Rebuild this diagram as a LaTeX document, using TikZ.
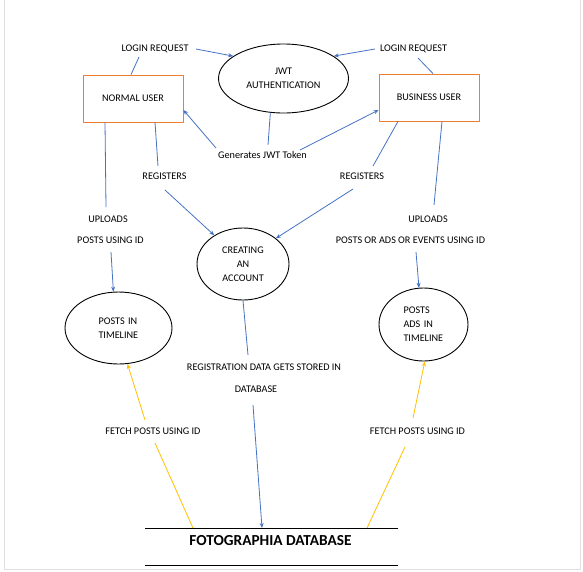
\documentclass[tikz,border=0pt]{standalone}
\usepackage{fontspec}
\setmainfont{Carlito}
\usetikzlibrary{shapes.geometric,arrows.meta}
\definecolor{lineblue}{RGB}{68,114,196}
\definecolor{boxorange}{RGB}{237,125,49}
\definecolor{fetchyellow}{RGB}{255,192,0}
\tikzset{
  lbl/.style={inner sep=0pt,font=\fontsize{10.2}{14}\selectfont},
  proc/.style={ellipse,draw=black,line width=0.9pt,inner sep=0pt,align=center,font=\fontsize{10.2}{14}\selectfont},
  userbox/.style={rectangle,draw=boxorange,line width=0.8pt,minimum width=100pt,minimum height=47pt,font=\fontsize{10.2}{14}\selectfont},
  flow/.style={lineblue,line width=0.8pt},
  fetch/.style={fetchyellow,line width=0.8pt}
}
\begin{document}
\begin{tikzpicture}[x=1pt,y=-1pt,>={Stealth[length=5pt,width=4pt]},line join=round]
\useasboundingbox (0,0) rectangle (583,571);
% frame of the page
\draw[gray!25,line width=0.8pt] (4,0) -- (4,569) -- (580,569) -- (580,0);
% processes and users
\node[proc,minimum width=130pt,minimum height=69pt] (jwt) at (283.5,78.5) {JWT\\AUTHENTICATION};
\node[proc,minimum width=92pt,minimum height=72pt] (acct) at (243,264) {CREATING\\AN\\ACCOUNT};
\node[proc,minimum width=107pt,minimum height=72pt,text width=40pt,align=left] (tlN) at (118.5,328) {POSTS IN\\TIMELINE};
\node[proc,minimum width=89pt,minimum height=73pt,text width=40pt,align=left] (tlB) at (423.5,324.5) {POSTS\\ADS IN\\TIMELINE};
\node[userbox] (nu) at (133,98.5) {NORMAL USER};
\node[userbox] (bu) at (429,97.5) {BUSINESS USER};
% labels
\node[lbl] (loginN) at (155,49) {LOGIN REQUEST};
\node[lbl] (loginB) at (413.5,49) {LOGIN REQUEST};
\node[lbl] (token) at (262.5,155) {Generates JWT Token};
\node[lbl] (regN) at (164.5,176) {REGISTERS};
\node[lbl] (regB) at (362,176) {REGISTERS};
\node[lbl] (upN) at (108,219) {UPLOADS};
\node[lbl] (postsN) at (110.5,240) {POSTS USING ID};
\node[lbl] (upB) at (428,219) {UPLOADS};
\node[lbl] (postsB) at (410.5,240) {POSTS OR ADS OR EVENTS USING ID};
\node[lbl] (store) at (264,367) {REGISTRATION DATA GETS STORED IN};
\node[lbl] (storeDb) at (256,389) {DATABASE};
\node[lbl] (fetchN) at (153,431) {FETCH POSTS USING ID};
\node[lbl] (fetchB) at (417.5,431) {FETCH POSTS USING ID};
\node[inner sep=0pt,font=\fontsize{15.3}{17}\selectfont\bfseries] (db) at (270.5,541) {FOTOGRAPHIA DATABASE};
% free ends beside the labels
\path
(139,57) coordinate (loginNs) (196,49) coordinate (loginNe)
(418,58) coordinate (loginBs) (375,49) coordinate (loginBw)
(268,145) coordinate (tokenN) (216,148) coordinate (tokenW) (300,150) coordinate (tokenE)
(158,166) coordinate (regNn) (165,190) coordinate (regNs)
(373,166) coordinate (regBn) (353,189) coordinate (regBs)
(106,207) coordinate (upNn) (111,252) coordinate (postsNs)
(434,205) coordinate (upBn) (416,252) coordinate (postsBs)
(248,355) coordinate (storeN) (253,405) coordinate (storeS)
(155,443) coordinate (fetchNs) (145,420) coordinate (fetchNn)
(405,447) coordinate (fetchBs) (413,418) coordinate (fetchBn)
(145,528) coordinate (dbNW) (398,528) coordinate (dbNE)
(145,565) coordinate (dbSW) (398,565) coordinate (dbSE)
;
% database
\draw[line width=0.9pt] (dbNW) -- (dbNE) (dbSW) -- (dbSE);
% login
\draw[flow] (131,0 |- nu.north) -- (loginNs);
\draw[flow,->] (loginNe) -- (jwt.156);
\draw[flow] (433,0 |- bu.north) -- (loginBs);
\draw[flow,->] (loginBw) -- (jwt.24);
% token
\draw[flow] (jwt.249) -- (tokenN);
\draw[flow,->] (tokenW) -- (nu.east |- 0,110);
\draw[flow,->] (tokenE) -- (bu.west |- 0,110);
% registration
\draw[flow] (155,0 |- nu.south) -- (regNn);
\draw[flow,->] (regNs) -- (acct.135);
\draw[flow] (398,0 |- bu.south) -- (regBn);
\draw[flow,->] (regBs) -- (acct.38);
% uploads
\draw[flow] (105,0 |- nu.south) -- (upNn);
\draw[flow,->] (postsNs) -- (tlN.98);
\draw[flow] (442,0 |- bu.south) -- (upBn);
\draw[flow,->] (postsBs) -- (tlB.97);
% storing
\draw[flow] (acct.south) -- (storeN);
\draw[flow,->] (storeS) -- (262,0 |- dbNW);
% fetching
\draw[fetch] (193,0 |- dbNW) -- (fetchNs);
\draw[fetch,->] (fetchNn) -- (tlN.284);
\draw[fetch] (367,0 |- dbNW) -- (fetchBs);
\draw[fetch,->] (fetchBn) -- (tlB.272);
\end{tikzpicture}
\end{document}
